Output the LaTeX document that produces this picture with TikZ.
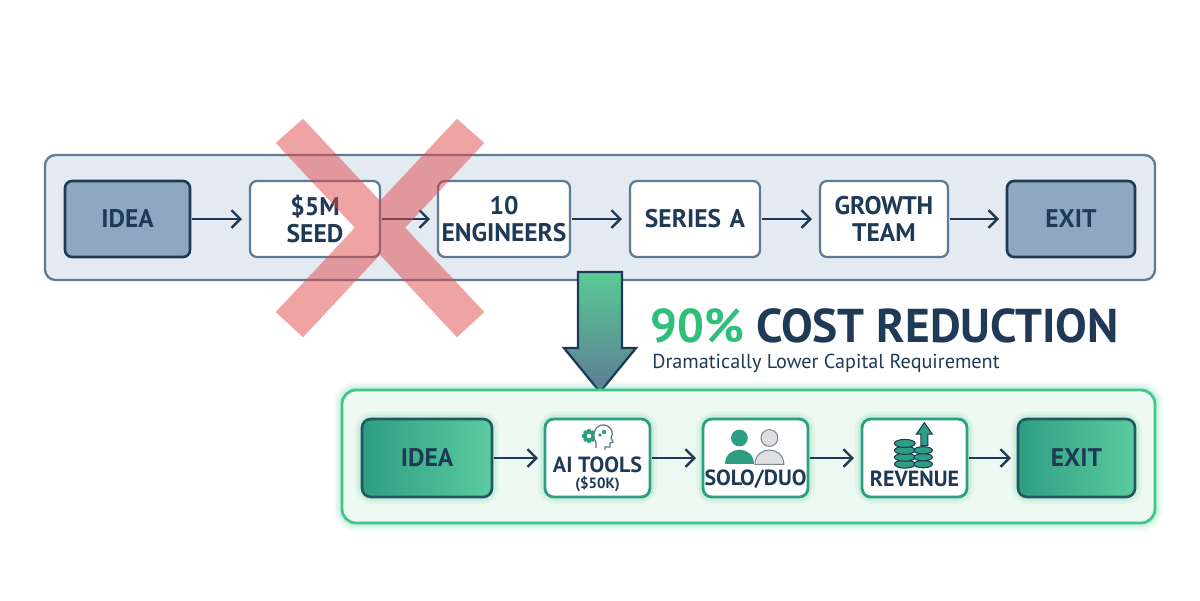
\documentclass[tikz,border=0pt]{standalone}
\usepackage{fontspec}
\setmainfont{PT Sans}
\usetikzlibrary{arrows.meta,shadings}
\definecolor{navy}{HTML}{1F3A56}
\definecolor{slate}{HTML}{8FA8C0}
\definecolor{slateb}{HTML}{5E7A95}
\definecolor{paneltop}{HTML}{E4EAF1}
\definecolor{grn}{HTML}{2FBF7A}
\definecolor{grnb}{HTML}{3FC78A}
\definecolor{teal}{HTML}{2E9E82}
\definecolor{tealL}{HTML}{5BCBA0}
\definecolor{panelbot}{HTML}{EDF9F2}
\definecolor{xred}{HTML}{E04848}
\newcommand{\slsh}{/}
\tikzset{
 lbl/.style={font=\fontsize{14.5}{15.5}\selectfont\bfseries, text=navy, align=center, inner sep=0pt},
 blbl/.style={font=\fontsize{12.5}{13}\selectfont\bfseries, text=navy, align=center, inner sep=0pt},
 topbox/.style={draw=slateb, line width=1.3pt, rounded corners=4pt, fill=white},
 topdark/.style={draw=navy, line width=1.5pt, rounded corners=4pt, fill=slate},
 botbox/.style={draw=teal, line width=1.6pt, rounded corners=5pt, fill=white},
 botdark/.style={draw=navy!70!teal, line width=1.5pt, rounded corners=5pt, left color=teal, right color=tealL},
 arr/.style={-{Straight Barb[length=5pt,width=10pt]}, line width=1.4pt, draw=navy},
 xbar/.style={fill=xred, draw=xred, line width=1pt},
}
\begin{document}
\begin{tikzpicture}[x=0.02cm,y=-0.02cm]
\useasboundingbox[fill=white] (0,0) rectangle (1200,600);
% top panel
\draw[fill=paneltop, draw=slateb, line width=1.3pt, rounded corners=6pt] (45,155) rectangle (1155,280);
\foreach \n/\a/\b/\s/\t in {t1/65/190/topdark/IDEA, t2/250/380/topbox/{\$5M\\SEED}, t3/438/570/topbox/{10\\ENGINEERS}, t4/630/760/topbox/SERIES A, t5/820/948/topbox/{GROWTH\\TEAM}, t6/1007/1135/topdark/EXIT}{
  \path[\s] (\a,181) rectangle (\b,257);
  \node[lbl, text width=(\b-\a)*0.02cm] (\n) at ({(\a+\b)/2},219) {\t};
}
\coordinate (t1e) at (192,219); \coordinate (t2w) at (242,219);
\coordinate (t2e) at (382,219); \coordinate (t3w) at (430,219);
\coordinate (t3e) at (572,219); \coordinate (t4w) at (622,219);
\coordinate (t4e) at (762,219); \coordinate (t5w) at (812,219);
\coordinate (t5e) at (950,219); \coordinate (t6w) at (999,219);
\draw[arr] (t1e) -- (t2w); \draw[arr] (t2e) -- (t3w); \draw[arr] (t3e) -- (t4w);
\draw[arr] (t4e) -- (t5w); \draw[arr] (t5e) -- (t6w);
% red X
\begin{scope}[transparency group, opacity=0.5]
\draw[xbar] (277,143) -- (303,120) -- (483,312) -- (457,336) -- cycle;
\draw[xbar] (457,120) -- (483,143) -- (303,336) -- (277,312) -- cycle;
\end{scope}
% big arrow
\shade[top color=grn!80!white, bottom color=slateb, draw=navy, line width=1.3pt]
  (578,272) -- (622,272) -- (622,348) -- (636,348) -- (600,392) -- (564,348) -- (578,348) -- cycle;
% title
\node[anchor=west, inner sep=0pt, font=\fontsize{27}{28}\selectfont\bfseries] (title) at (650,326) {\textcolor{grn}{90\%} \textcolor{navy}{COST REDUCTION}};
\node[anchor=west, inner sep=0pt, font=\fontsize{11.5}{12}\selectfont, text=navy] (sub) at (652,363) {Dramatically Lower Capital Requirement};
% bottom panel
\foreach \w/\o in {10/0.05,7/0.08,4/0.12}{
 \draw[grnb, opacity=\o, line width=\w pt, rounded corners=8pt] (342,390) rectangle (1155,523);}
\draw[fill=panelbot, draw=grnb, line width=1.6pt, rounded corners=8pt] (342,390) rectangle (1155,523);
\foreach \n/\a/\b/\s/\t/\y/\st in {b1/362/492/botdark/IDEA/458/lbl, b2/545/650/botbox/{AI TOOLS}/465/blbl, b3/703/808/botbox/{SOLO\slsh DUO}/479/blbl, b4/862/967/botbox/REVENUE/479/blbl, b5/1018/1135/botdark/EXIT/458/lbl}{
  \foreach \w/\o in {8/0.08,5/0.12}{\draw[grnb, opacity=\o, line width=\w pt, rounded corners=6pt] (\a,419) rectangle (\b,497);}
  \path[\s] (\a,419) rectangle (\b,497);
  \node[\st] (\n) at ({(\a+\b)/2},\y) {\t};
}
\node[blbl, font=\fontsize{8.5}{9}\selectfont\bfseries] (b2s) at (597.5,484) {(\$50K)};
\coordinate (b1e) at (494,458); \coordinate (b2w) at (538,458);
\coordinate (b2e) at (652,458); \coordinate (b3w) at (696,458);
\coordinate (b3e) at (810,458); \coordinate (b4w) at (854,458);
\coordinate (b4e) at (969,458); \coordinate (b5w) at (1011,458);
\draw[arr] (b1e) -- (b2w); \draw[arr] (b2e) -- (b3w); \draw[arr] (b3e) -- (b4w); \draw[arr] (b4e) -- (b5w);
% AI icon: gear + head
\begin{scope}[shift={(598,438)}, scale=1.0]
\fill[teal] (-9,-2) circle (5.5);
\foreach \k in {0,45,...,315}{\fill[teal] (-9,-2) ++(\k:5) circle (2.2);}
\fill[white] (-9,-2) circle (2.2);
\draw[navy!70, line width=0.7pt, fill=white] (-2,10) -- (-2,4) .. controls (-7,-2) and (-3,-14) .. (6,-13) .. controls (14,-12) and (16,-5) .. (13,0) -- (15,4) -- (12,5) -- (12,9) -- (7,9) -- (7,12);
\fill[teal] (6,-6) circle (2.2); \fill[teal] (2,-3) circle (1.8);
\end{scope}
% people icon
\begin{scope}[shift={(755,450)}, scale=1.2]
\fill[teal] (-13,-10) circle (7);
\fill[teal] (-25,12) .. controls (-25,-4) and (-1,-4) .. (-1,12) -- cycle;
\draw[navy!60, fill=gray!25, line width=0.6pt] (12,-10) circle (7);
\draw[navy!60, fill=gray!25, line width=0.6pt] (0,12) .. controls (0,-4) and (24,-4) .. (24,12) -- cycle;
\end{scope}
% coins icon
\begin{scope}[shift={(914,448)}, scale=1.15]
\foreach \yy in {14,8,2,-4}{\draw[navy, fill=teal, line width=0.6pt] (-8,\yy) ellipse (9 and 3.5);}
\foreach \yy in {14,8,2}{\draw[navy, fill=teal, line width=0.6pt] (8,\yy) ellipse (8 and 3.2);}
\draw[navy, fill=teal, line width=0.6pt] (6,-2) -- (6,-12) -- (2,-12) -- (9,-22) -- (16,-12) -- (12,-12) -- (12,-2) -- cycle;
\end{scope}
\end{tikzpicture}
\end{document}
